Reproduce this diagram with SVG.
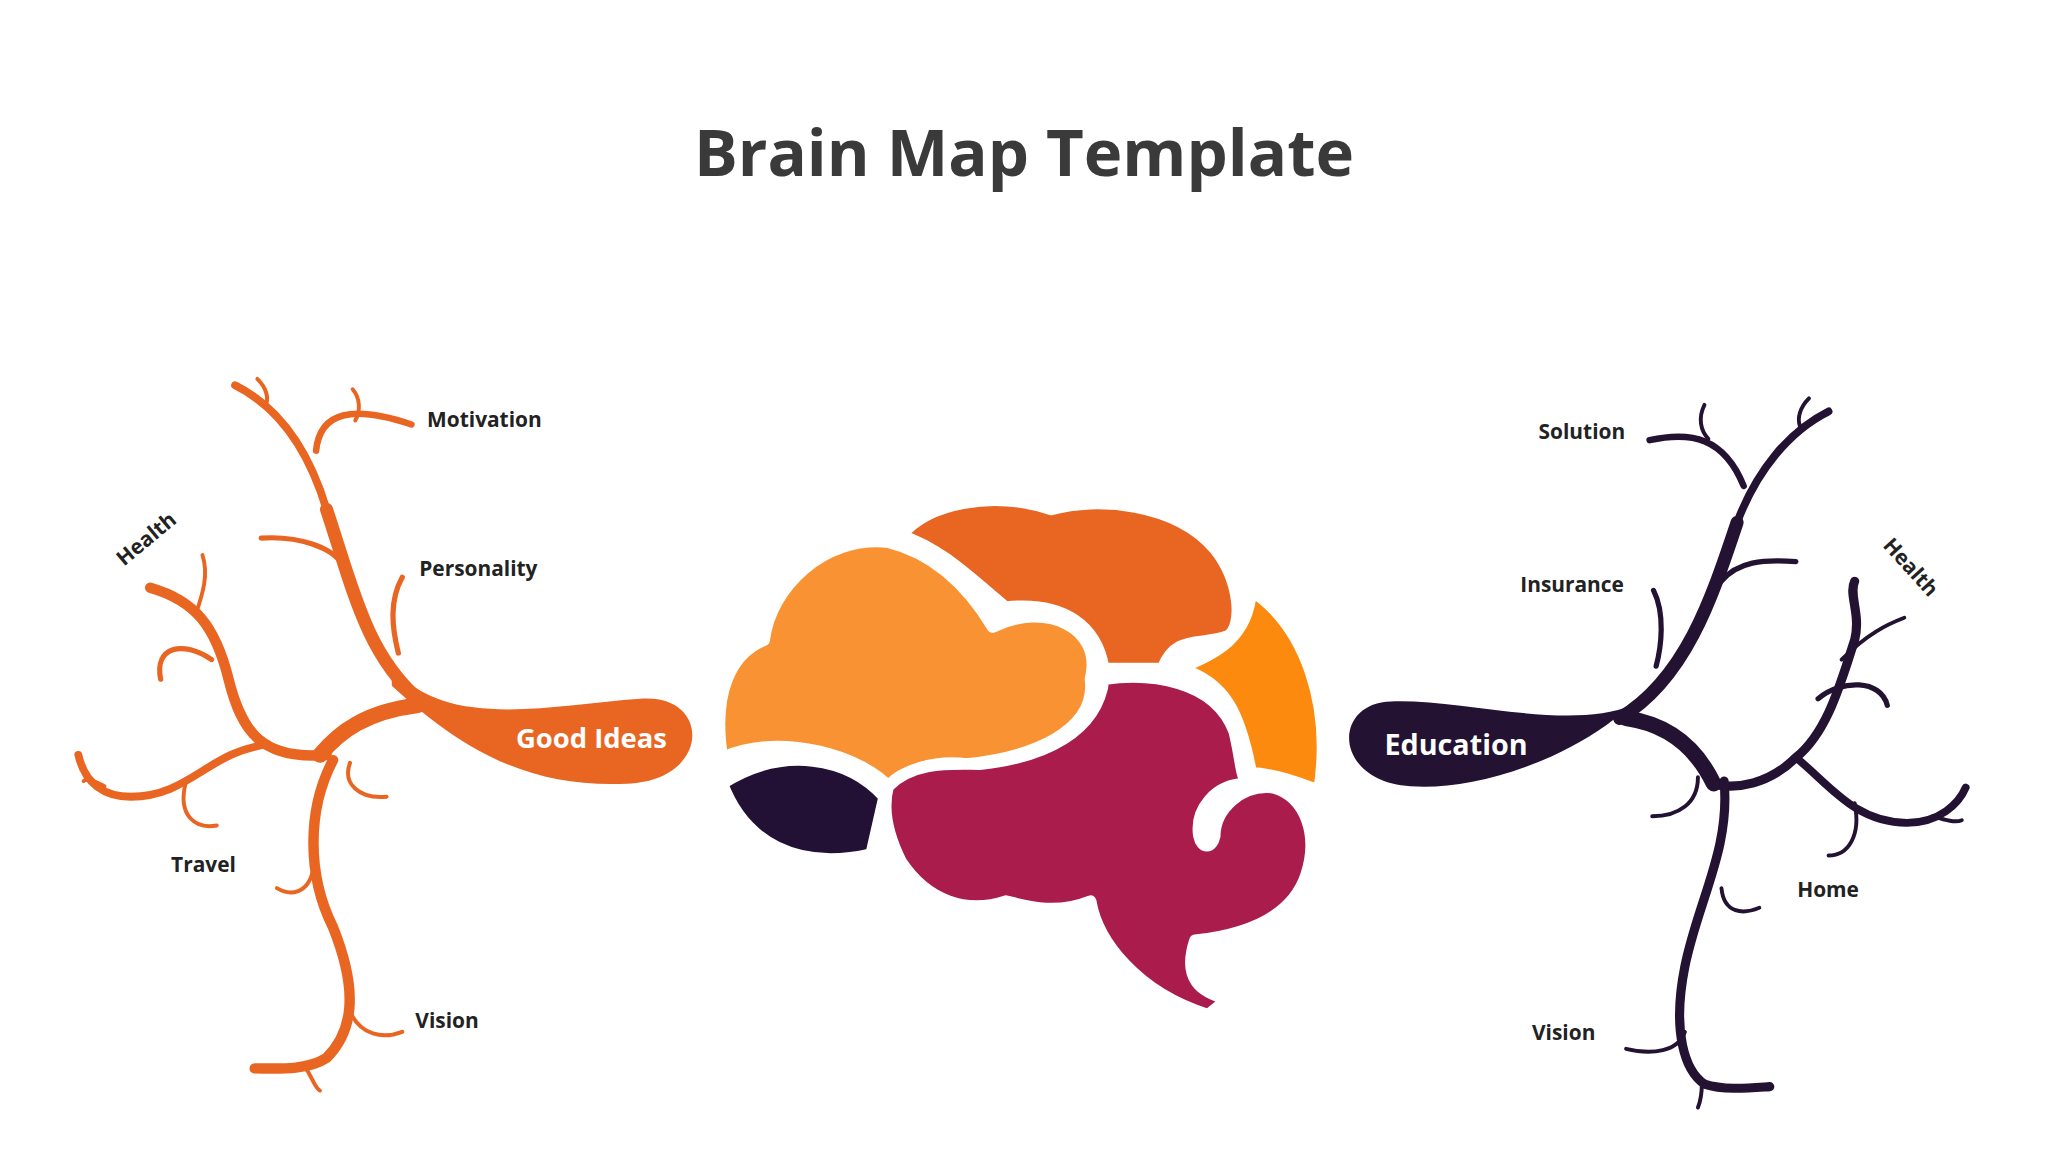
<svg xmlns="http://www.w3.org/2000/svg" width="2048" height="1152" viewBox="0 0 2048 1152">
<style>
.lbl{font-family:"Open Sans","Liberation Sans",sans-serif;font-weight:700;font-size:16px;fill:#222}
.o{fill:none;stroke:#e96522;stroke-linecap:round}
.d{fill:none;stroke:#231232;stroke-linecap:round}
.b{stroke:#fff;stroke-width:9;stroke-linejoin:round}
</style>
<rect width="2048" height="1152" fill="#fff"/>
<g transform="scale(1.3061)">
<text x="784" y="135" text-anchor="middle" font-family="Open Sans,Liberation Sans,sans-serif" font-weight="700" font-size="50" fill="#3a3a3a">Brain Map Template</text>
<g id="connectors">
<g id="left-tree">
<path d="M300 510 C340 560 420 540 490 535 C545 530 545 598 480 600 C410 603 360 580 300 525 Z" fill="#e96522"/>
<path class="o" stroke-width="10" d="M320 535 C280 500 270 450 250 390"/>
<path class="o" stroke-width="6" d="M250 390 C235 340 210 310 180 295"/>
<path class="o" stroke-width="5" d="M242 345 C245 315 270 310 315 325"/>
<path class="o" stroke-width="3" d="M270 298 C276 305 276 315 272 322"/>
<path class="o" stroke-width="3" d="M197 290 C205 298 206 305 203 312"/>
<path class="o" stroke-width="4" d="M200 412 C230 410 255 420 262 432"/>
<path class="o" stroke-width="4" d="M308 442 C298 460 300 480 305 500"/>
<path class="o" stroke-width="12" d="M320 540 C280 545 260 560 245 578"/>
<path class="o" stroke-width="8" d="M250 578 C200 582 185 560 175 520 C165 480 150 460 115 450"/>
<path class="o" stroke-width="3" d="M155 425 C160 440 155 455 150 470"/>
<path class="o" stroke-width="4" d="M123 520 C118 495 140 490 162 505"/>
<path class="o" stroke-width="6" d="M205 570 C160 575 145 610 100 610 C80 610 65 600 60 578"/>
<path class="o" stroke-width="3" d="M142 600 C136 625 150 635 166 632"/>
<path class="o" stroke-width="3" d="M80 602 C72 598 68 595 64 598"/>
<path class="o" stroke-width="8" d="M255 582 C235 620 235 670 255 710 C275 760 270 790 250 810 C235 820 210 818 195 818"/>
<path class="o" stroke-width="3" d="M240 665 C236 685 222 686 212 680"/>
<path class="o" stroke-width="3" d="M268 584 C262 600 275 612 296 610"/>
<path class="o" stroke-width="3" d="M266 770 C275 795 295 795 308 790"/>
<path class="o" stroke-width="3" d="M232 815 C240 825 240 832 245 835"/>
</g>
<g id="right-tree">
<path d="M1230 555 C1180 590 1120 605 1080 602 C1020 598 1020 538 1065 537 C1120 535 1200 560 1250 540 Z" fill="#231232"/>
<path class="d" stroke-width="10" d="M1240 550 C1290 520 1310 460 1330 400"/>
<path class="d" stroke-width="6" d="M1330 400 C1345 360 1370 330 1400 315"/>
<path class="d" stroke-width="5" d="M1335 372 C1320 335 1295 330 1263 337"/>
<path class="d" stroke-width="3" d="M1305 310 C1300 320 1302 330 1308 336"/>
<path class="d" stroke-width="3" d="M1385 305 C1378 312 1376 320 1378 326"/>
<path class="d" stroke-width="4" d="M1318 445 C1330 430 1350 428 1375 430"/>
<path class="d" stroke-width="4" d="M1266 452 C1275 470 1272 495 1268 510"/>
<path class="d" stroke-width="12" d="M1245 550 C1280 555 1300 575 1312 600"/>
<path class="d" stroke-width="7" d="M1310 600 C1330 605 1355 600 1375 580 C1400 560 1410 520 1420 490 C1425 470 1415 455 1420 445"/>
<path class="d" stroke-width="3" d="M1410 505 C1430 485 1445 478 1458 473"/>
<path class="d" stroke-width="4" d="M1392 535 C1410 520 1440 520 1445 540"/>
<path class="d" stroke-width="6" d="M1375 580 C1400 600 1420 630 1460 630 C1485 630 1500 615 1505 603"/>
<path class="d" stroke-width="3" d="M1420 615 C1425 640 1415 655 1400 655"/>
<path class="d" stroke-width="3" d="M1480 625 C1490 628 1497 630 1502 628"/>
<path class="d" stroke-width="7" d="M1320 598 C1325 650 1300 690 1290 740 C1280 790 1290 820 1305 830 C1320 835 1340 833 1355 832"/>
<path class="d" stroke-width="3" d="M1300 595 C1300 615 1285 625 1265 625"/>
<path class="d" stroke-width="3" d="M1318 680 C1320 700 1335 700 1347 695"/>
<path class="d" stroke-width="3" d="M1290 790 C1285 805 1265 808 1245 803"/>
<path class="d" stroke-width="3" d="M1303 830 C1303 838 1302 843 1300 848"/>
</g>
</g>
<g id="brain">
<path class="b" fill="#e96522" d="M690 410 C710 385 760 375 805 390 C840 380 900 385 930 420 C950 445 952 480 940 487 C920 495 900 485 890 512 L845 512 C840 480 815 460 770 465 C740 440 720 420 690 410 Z"/>
<path class="b" fill="#f99232" d="M553 580 C545 530 560 500 585 490 C590 450 630 410 680 415 C720 425 745 455 760 480 C800 460 845 480 835 520 C840 560 790 580 740 585 C715 582 690 590 680 602 C660 580 600 560 553 580 Z"/>
<path class="b" fill="#fb8a0f" d="M958 452 C1000 480 1020 540 1010 605 C995 600 975 592 958 592 C950 550 940 522 903 512 C930 500 955 490 958 452 Z"/>
<path class="b" fill="#a91c4c" d="M680 602 C700 582 730 585 750 585 C800 580 840 560 845 520 C880 515 930 520 945 560 C950 580 950 595 955 600 C930 600 915 620 918 640 C920 650 928 650 930 640 C930 620 950 600 975 603 C1000 610 1010 640 1000 670 C990 700 960 715 915 720 C905 750 920 760 940 765 L925 777 C870 760 840 720 835 690 C810 700 790 695 770 690 C740 700 710 690 690 660 C680 640 675 620 680 602 Z"/>
<path class="b" fill="#231035" d="M553 600 C600 570 650 580 677 610 L667 654 C610 667 570 645 553 600 Z"/>
</g>
<g id="labels">
<text class="lbl" x="327" y="327">Motivation</text>
<text class="lbl" x="321" y="441">Personality</text>
<text class="lbl" transform="translate(95 434) rotate(-40)">Health</text>
<text class="lbl" x="131" y="668">Travel</text>
<text class="lbl" x="318" y="787">Vision</text>
<text x="395" y="573" font-family="Open Sans,Liberation Sans,sans-serif" font-weight="700" font-size="21" fill="#fff">Good Ideas</text>
<text class="lbl" x="1178" y="336">Solution</text>
<text class="lbl" x="1164" y="453">Insurance</text>
<text class="lbl" transform="translate(1441 418) rotate(48)">Health</text>
<text class="lbl" x="1376" y="687">Home</text>
<text class="lbl" x="1173" y="796">Vision</text>
<text x="1060" y="578" font-family="Open Sans,Liberation Sans,sans-serif" font-weight="700" font-size="22" fill="#fff">Education</text>
</g>
</g>
</svg>
